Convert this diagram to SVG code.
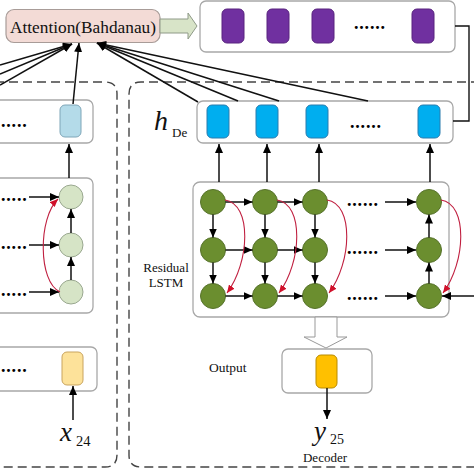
<svg xmlns="http://www.w3.org/2000/svg" width="474" height="474" viewBox="0 0 474 474">
<defs>
<marker id="ah" markerUnits="userSpaceOnUse" markerWidth="9" markerHeight="8" refX="9" refY="4" orient="auto"><path d="M0,0 L9,4 L0,8 z" fill="#000"/></marker>
<marker id="ar" markerUnits="userSpaceOnUse" markerWidth="8" markerHeight="7" refX="8" refY="3.5" orient="auto"><path d="M0,0 L8,3.5 L0,7 z" fill="#d0102a"/></marker>
<style>
.panel{fill:#fff;stroke:#a8a8a8;stroke-width:1.3}
.dash{fill:none;stroke:#444;stroke-width:1.4;stroke-dasharray:9,5}
.ln{fill:none;stroke:#111;stroke-width:1.4}
.arr{fill:none;stroke:#111;stroke-width:1.5;marker-end:url(#ah)}
.red{fill:none;stroke:#c02040;stroke-width:1.1;marker-end:url(#ar)}
.gc{fill:#6b8e2f;stroke:#56722a;stroke-width:1}
.lc{fill:#d6e4c6;stroke:#9aa890;stroke-width:1}
.bl{fill:#00aeef;stroke:#2a7cae;stroke-width:1}
.pu{fill:#7030a0;stroke:#58237e;stroke-width:1}
.dots{font-family:"Liberation Serif",serif;font-size:18px;font-weight:bold;letter-spacing:0.8px;fill:#000}
.t{font-family:"Liberation Serif",serif;fill:#111}
</style>
</defs>

<!-- dashed frames -->
<g id="encoder-frame">
<path class="dash" d="M-5,82 L105,82 Q117,82 117,94 L117,455 Q117,467 105,467 L-5,467"/>
</g>
<g id="decoder-frame">
<path class="dash" d="M480,82 L141,82 Q129,82 129,94 L129,455 Q129,467 141,467 L480,467"/>
</g>

<!-- attention -->
<g id="attention">
<rect x="6" y="9.5" width="154" height="33" rx="8" fill="#f3dbd6" stroke="#a89c98" stroke-width="1.2"/>
<text class="t" x="83" y="32.5" font-size="17.5" text-anchor="middle" textLength="146" lengthAdjust="spacingAndGlyphs">Attention(Bahdanau)</text>
</g>
<g id="block-arrow">
<path d="M160,19 L188,19 L188,13 L197,26 L188,39 L188,33 L160,33 z" fill="#d8e4c8" stroke="#8f9a88" stroke-width="1"/>
</g>

<!-- context vectors -->
<g id="context">
<rect class="panel" x="200" y="1" width="255" height="51" rx="6"/>
<rect class="pu" x="222" y="9" width="22" height="34" rx="5"/>
<rect class="pu" x="267" y="9" width="22" height="34" rx="5"/>
<rect class="pu" x="312" y="9" width="22" height="34" rx="5"/>
<rect class="pu" x="412" y="9" width="22" height="34" rx="5"/>
<text class="dots" x="354" y="29">......</text>
</g>

<!-- encoder hidden -->
<g id="enc-hidden">
<rect class="panel" x="-10" y="100" width="103" height="43" rx="6"/>
<rect x="60" y="105" width="21" height="32" rx="5" fill="#b4dbe9" stroke="#7fa6b8" stroke-width="1"/>
<text class="dots" x="1" y="127">.....</text>
</g>

<!-- encoder LSTM -->
<g id="enc-lstm">
<rect class="panel" x="-10" y="178" width="103" height="135" rx="6"/>
<circle class="lc" cx="71" cy="197" r="12"/>
<circle class="lc" cx="71" cy="245" r="12"/>
<circle class="lc" cx="71" cy="292" r="12"/>
<text class="dots" x="1" y="201">.....</text>
<text class="dots" x="1" y="249">.....</text>
<text class="dots" x="1" y="296">.....</text>
</g>

<!-- encoder input -->
<g id="enc-input">
<rect class="panel" x="-10" y="347" width="107" height="44" rx="6"/>
<rect x="62" y="352" width="21" height="33" rx="5" fill="#fde29a" stroke="#c9a45e" stroke-width="1"/>
<text class="dots" x="1" y="372">.....</text>
<text class="t" x="60" y="441" font-size="27" font-style="italic">x</text>
<text class="t" x="76" y="446" font-size="14.5">24</text>
</g>

<!-- decoder hidden -->
<g id="dec-hidden">
<rect class="panel" x="197" y="101" width="256" height="42" rx="6"/>
<rect class="bl" x="207" y="105" width="22" height="33" rx="5"/>
<rect class="bl" x="256" y="105" width="22" height="33" rx="5"/>
<rect class="bl" x="306" y="105" width="22" height="33" rx="5"/>
<rect class="bl" x="418" y="105" width="22" height="33" rx="5"/>
<text class="dots" x="350" y="128">......</text>
<text class="t" x="154" y="130" font-size="28" font-style="italic">h</text>
<text class="t" x="172" y="137" font-size="13">De</text>
</g>

<!-- decoder residual LSTM -->
<g id="dec-lstm">
<rect class="panel" x="193" y="182" width="256" height="135" rx="7"/>
<circle class="gc" cx="213" cy="202" r="12.5"/>
<circle class="gc" cx="265" cy="202" r="12.5"/>
<circle class="gc" cx="315" cy="202" r="12.5"/>
<circle class="gc" cx="429" cy="202" r="12.5"/>
<circle class="gc" cx="213" cy="250" r="12.5"/>
<circle class="gc" cx="265" cy="250" r="12.5"/>
<circle class="gc" cx="315" cy="250" r="12.5"/>
<circle class="gc" cx="429" cy="250" r="12.5"/>
<circle class="gc" cx="213" cy="296" r="12.5"/>
<circle class="gc" cx="265" cy="296" r="12.5"/>
<circle class="gc" cx="315" cy="296" r="12.5"/>
<circle class="gc" cx="429" cy="296" r="12.5"/>
<text class="dots" x="347" y="206">......</text>
<text class="dots" x="347" y="254">......</text>
<text class="dots" x="347" y="300">......</text>
<text class="t" x="166" y="272" font-size="13" text-anchor="middle">Residual</text>
<text class="t" x="166" y="287" font-size="13" text-anchor="middle">LSTM</text>
</g>

<!-- output -->
<g id="output">
<path d="M315,317 L337,317 L337,337 L347,337 L326,348 L304,337 L315,337 z" fill="#fff" stroke="#999" stroke-width="1"/>
<rect class="panel" x="282" y="349" width="90" height="44" rx="6"/>
<rect x="316" y="355" width="21" height="33" rx="5" fill="#ffc000" stroke="#b98b00" stroke-width="1"/>
<text class="t" x="209" y="372" font-size="13.5">Output</text>
<text class="t" x="314" y="440" font-size="27" font-style="italic">y</text>
<text class="t" x="330" y="444" font-size="14">25</text>
<text class="t" x="325" y="462" font-size="13" text-anchor="middle">Decoder</text>
</g>

<g id="connectors">
<!-- to attention from left -->
<line class="arr" x1="0" y1="65" x2="72" y2="44"/>
<line class="arr" x1="0" y1="74" x2="72" y2="44"/>
<line class="arr" x1="0" y1="85" x2="72" y2="44"/>
<line class="arr" x1="73" y1="104" x2="79" y2="43"/>
<!-- to attention from decoder hidden -->
<line class="arr" x1="198" y1="102" x2="97" y2="43"/>
<line class="arr" x1="238" y1="101" x2="97" y2="43"/>
<line class="arr" x1="279" y1="101" x2="97" y2="43"/>
<line class="arr" x1="368" y1="101" x2="97" y2="43"/>
<!-- feedback line -->
<polyline class="ln" points="453,121 469,121 469,26 455,26"/>
<!-- encoder -->
<line class="arr" x1="69" y1="178" x2="69" y2="144"/>
<line class="arr" x1="71" y1="280" x2="71" y2="257"/>
<line class="arr" x1="71" y1="233" x2="71" y2="209"/>
<line class="arr" x1="29" y1="197" x2="59" y2="197"/>
<line class="arr" x1="29" y1="245" x2="59" y2="245"/>
<line class="arr" x1="29" y1="292" x2="59" y2="292"/>
<path class="red" d="M60,292 C38,282 38,218 58,199"/>
<line class="arr" x1="73" y1="420" x2="73" y2="386"/>
<!-- decoder up to h -->
<line class="arr" x1="219" y1="182" x2="219" y2="144"/>
<line class="arr" x1="267" y1="182" x2="267" y2="144"/>
<line class="arr" x1="319" y1="182" x2="319" y2="144"/>
<line class="arr" x1="430" y1="182" x2="430" y2="144"/>
<!-- horizontal -->
<line class="arr" x1="225.5" y1="202" x2="252.5" y2="202"/>
<line class="arr" x1="277.5" y1="202" x2="302.5" y2="202"/>
<line class="arr" x1="385" y1="202" x2="416" y2="202"/>
<line class="arr" x1="225.5" y1="250" x2="252.5" y2="250"/>
<line class="arr" x1="277.5" y1="250" x2="302.5" y2="250"/>
<line class="arr" x1="385" y1="250" x2="416" y2="250"/>
<line class="arr" x1="225.5" y1="296" x2="252.5" y2="296"/>
<line class="arr" x1="277.5" y1="296" x2="302.5" y2="296"/>
<line class="arr" x1="385" y1="296" x2="416" y2="296"/>
<line class="arr" x1="474" y1="296" x2="442" y2="296"/>
<!-- vertical -->
<line class="arr" x1="213" y1="214.5" x2="213" y2="237.5"/>
<line class="arr" x1="213" y1="262.5" x2="213" y2="283.5"/>
<line class="arr" x1="265" y1="214.5" x2="265" y2="237.5"/>
<line class="arr" x1="265" y1="262.5" x2="265" y2="283.5"/>
<line class="arr" x1="315" y1="214.5" x2="315" y2="237.5"/>
<line class="arr" x1="315" y1="262.5" x2="315" y2="283.5"/>
<line class="arr" x1="429" y1="283.5" x2="429" y2="262.5"/>
<line class="arr" x1="429" y1="237.5" x2="429" y2="214.5"/>
<!-- residual curves -->
<path class="red" d="M225,200 C252,204 250,262 227,293"/>
<path class="red" d="M277,200 C304,204 302,262 279,293"/>
<path class="red" d="M327,200 C354,204 352,262 329,293"/>
<path class="red" d="M441,200 C468,204 466,262 443,293"/>
<!-- output arrow -->
<line class="arr" x1="327" y1="388" x2="327" y2="419"/>
</g>
</svg>
